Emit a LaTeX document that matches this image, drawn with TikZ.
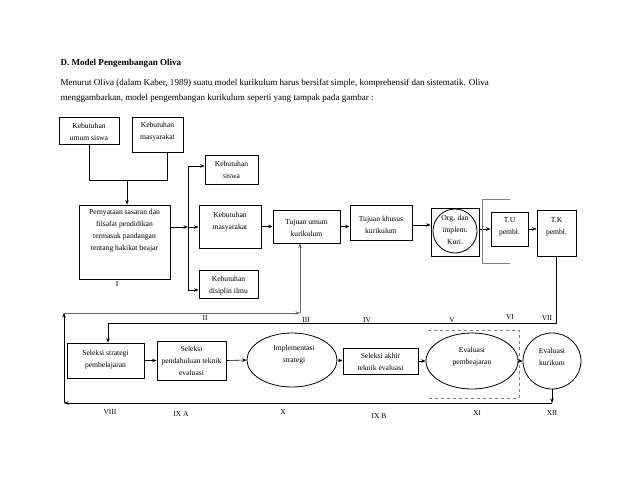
\documentclass[tikz,border=0pt]{standalone}
\usepackage{fontspec}
\setmainfont{Liberation Serif}
\usetikzlibrary{arrows.meta, shapes.geometric}

\begin{document}
\begin{tikzpicture}[x=1pt, y=-1pt,
  kotak/.style={draw, line width=0.8pt, inner sep=0pt},
  elips/.style={draw, ellipse, line width=0.8pt, inner sep=0pt},
  tulis/.style={font=\fontsize{7.6}{12}\selectfont, align=center, inner sep=0pt},
  romawi/.style={font=\fontsize{7.5}{9}\selectfont, inner sep=0pt},
  garis/.style={line width=0.6pt},
  panah/.style={line width=0.6pt, -{Stealth[length=4.5pt, width=3.5pt]}},
  kurung/.style={gray, line width=0.5pt}]
\useasboundingbox (0,0) rectangle (638,493);

\node[anchor=west, font=\fontsize{9.05}{11}\selectfont\bfseries] (judul) at (57,63){D. Model Pengembangan Oliva};
\node[anchor=west, font=\fontsize{9.05}{11}\selectfont] (par_a) at (57,83){Menurut Oliva (dalam Kaber, 1989) suatu model kurikulum harus bersifat simple, komprehensif dan sistematik. Oliva};
\node[anchor=west, font=\fontsize{9.05}{11}\selectfont] (par_b) at (57,98){menggambarkan, model pengembangan kurikulum seperti yang tampak pada gambar :};

\node[kotak, minimum width=60, minimum height=27] (umum_siswa) at (89,130.5){};
\node[tulis] (umum_siswa_t) at (89,131.5){Kebutuhan\\umum siswa};

\node[kotak, minimum width=51, minimum height=35] (keb_masy) at (157.5,134.5){};
\node[tulis] (keb_masy_t) at (157.5,131.5){Kebutuhan\\masyarakat};

\node[kotak, minimum width=91, minimum height=74] (pernyataan) at (124.5,242){};
\node[tulis] (pernyataan_t) at (124.5,231){Pernyataan sasaran dan\\filsafat pendidikan\\termasuk pandangan\\tentang hakikat beajar};
\node[romawi] (rom_i) at (117,284){I};

\node[kotak, minimum width=53, minimum height=29] (keb_siswa) at (231.5,169.5){};
\node[tulis] (keb_siswa_t) at (231.5,169.5){Kebutuhan\\siswa};

\node[kotak, minimum width=62, minimum height=43] (keb_masy2) at (230,226.5){};
\node[tulis] (keb_masy2_t) at (230,222){Kebutuhan\\masyarakat};

\node[kotak, minimum width=59, minimum height=28] (disiplin) at (228.5,284){};
\node[tulis] (disiplin_t) at (228.5,285.5){Kebutuhan\\disiplin ilmu};

\node[kotak, minimum width=67, minimum height=33] (tujuan_umum) at (306.5,226.5){};
\node[tulis] (tujuan_umum_t) at (306.5,228){Tujuan umum\\kurikulum};

\node[kotak, minimum width=62, minimum height=35] (tujuan_khusus) at (381,222.5){};
\node[tulis] (tujuan_khusus_t) at (381,225){Tujuan khusus\\kurikulum};

\node[kotak, minimum width=48, minimum height=48] (org) at (455,232){};
\node[draw, circle, line width=0.8pt, minimum size=44, inner sep=0pt] (org_c) at (455,231){};
\node[tulis] (org_t) at (455,229.5){Org. dan\\implem.\\Kuri.};

\node[kotak, minimum width=37, minimum height=34] (tu) at (509.5,229){};
\node[tulis] (tu_t) at (509.5,227){T.U\\pembl.};

\node[kotak, minimum width=39, minimum height=46] (tk) at (556.5,233){};
\node[tulis] (tk_t) at (556.5,227){T.K\\pembl.};

\node[kotak, minimum width=77, minimum height=35] (sel_strategi) at (105.5,360.5){};
\node[tulis] (sel_strategi_t) at (105.5,360){Seleksi strategi\\pembelajaran};

\node[kotak, minimum width=69, minimum height=39] (sel_pendahuluan) at (191.5,360.5){};
\node[tulis] (sel_pendahuluan_t) at (191.5,360.5){Seleksi\\pendahuluan teknik\\evaluasi};

\node[elips, minimum width=90, minimum height=54] (implementasi) at (292,360){};
\node[tulis] (implementasi_t) at (294,355){Implementasi\\strategi};

\node[kotak, minimum width=75, minimum height=26] (sel_akhir) at (380.5,361){};
\node[tulis] (sel_akhir_t) at (380.5,362){Seleksi akhir\\teknik evaluasi};

\node[elips, minimum width=92, minimum height=56] (eval_pemb) at (472,361){};
\node[tulis] (eval_pemb_t) at (472,357){Evaluasi\\pembeajaran};

\node[elips, minimum width=58, minimum height=56] (eval_kur) at (552,361){};
\node[tulis] (eval_kur_t) at (552,357){Evaluasi\\kurikum};

\coordinate (gabung_l) at (89,180);
\coordinate (gabung_r) at (167,180);
\coordinate (gabung_m) at (127,180);
\draw[garis] (umum_siswa.south) -- (gabung_l) -- (gabung_r) -- (gabung_r |- keb_masy.south);
\draw[panah] (gabung_m) -- (gabung_m |- pernyataan.north);

\coordinate (cab_a) at (188,166);
\coordinate (cab_b) at (188,227);
\coordinate (cab_c) at (188,290);
\draw[garis] (cab_a) -- (cab_c);
\draw[panah] (pernyataan.east |- cab_b) -- (cab_b);
\draw[panah] (cab_a) -- (cab_a -| keb_siswa.west);
\draw[panah] (cab_b) -- (cab_b -| keb_masy2.west);
\draw[panah] (cab_c) -- (cab_c -| disiplin.west);

\draw[panah] (keb_masy2.east) -- (keb_masy2.east -| tujuan_umum.west);
\draw[panah] (tujuan_umum.east) -- (tujuan_umum.east -| tujuan_khusus.west);
\draw[panah] (tujuan_khusus.east |- 0,225) -- (org.west |- 0,225);
\draw[panah] (org.east |- tu) -- (tu.west);
\draw[panah] (tu.east) -- (tu.east -| tk.west);

\draw[kurung] (510,199) -- (482,199) -- (482,263) -- (510,263);
\draw[kurung, dashed] (428,330) -- (519,330) -- (519,398) -- (428,398);

\coordinate (sel_atas) at (108,323);
\draw[garis] (tk.south) -- (tk.south |- sel_atas) -- (sel_atas);
\draw[panah] (sel_atas) -- (sel_atas |- sel_strategi.north);

\draw[panah] (sel_strategi.east) -- (sel_pendahuluan.west |- sel_strategi.east);
\draw[panah] (sel_pendahuluan.east) -- (implementasi.west);
\draw[panah] (implementasi.east) -- (sel_akhir.west);
\draw[panah] (sel_akhir.east) -- (eval_pemb.west);
\draw[panah] (eval_pemb.east) -- (eval_kur.west);

\coordinate (balik_a) at (552,403);
\coordinate (balik_b) at (64,403);
\coordinate (balik_c) at (64,313);
\coordinate (balik_d) at (300,313);
\draw[panah] (eval_kur.south) -- (balik_a);
\draw[panah] (balik_a) -- (balik_b);
\draw[panah] (balik_b) -- (balik_c);
\draw[panah, black!60] (balik_c) -- (balik_d);
\draw[panah, black!60] (balik_d) -- (balik_d |- tujuan_umum.south);

\node[romawi] (rom_ii) at (205,318){II};
\node[romawi] (rom_iii) at (306,320){III};
\node[romawi] (rom_iv) at (367,320){IV};
\node[romawi] (rom_v) at (452,320){V};
\node[romawi] (rom_vi) at (510,317){VI};
\node[romawi] (rom_vii) at (547,318){VII};

\node[romawi] (rom_viii) at (110,412){VIII};
\node[romawi] (rom_ixa) at (181,414){IX A};
\node[romawi] (rom_x) at (283,412){X};
\node[romawi] (rom_ixb) at (379,416){IX B};
\node[romawi] (rom_xi) at (477,413){XI};
\node[romawi] (rom_xii) at (552,413){XII};
\end{tikzpicture}
\end{document}
